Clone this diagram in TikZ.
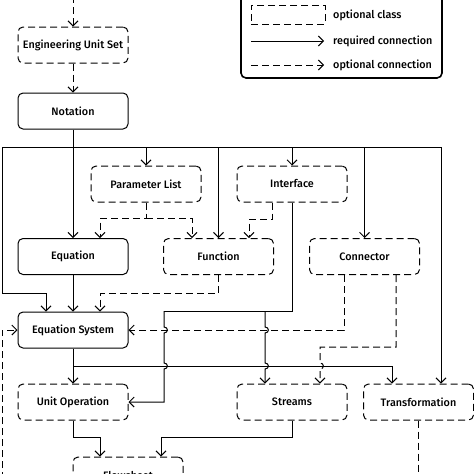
\documentclass[tikz,border=0pt]{standalone}
\usepackage{fontspec}
\setmainfont{Fira Sans}[UprightFont={Fira Sans Medium}]
\usetikzlibrary{arrows.meta}
\tikzset{
  txt/.style={font=\fontsize{10.8}{13}\selectfont},
  reqbox/.style={draw, txt, rounded corners=5pt, minimum width=110pt, minimum height=36pt, line width=1pt, inner sep=0pt},
  optbox/.style={reqbox, dash pattern=on 7pt off 4pt},
  ln/.style={line width=1pt},
  rc/.style={ln, -{Straight Barb[length=5pt,width=10pt,line width=1pt]}},
  oc/.style={rc, dash pattern=on 7pt off 4pt},
  legtxt/.style={txt, anchor=west, inner sep=0pt}
}
\begin{document}
\begin{tikzpicture}[x=1pt,y=-1pt]
\useasboundingbox (0,0) rectangle (474,474);
\clip (0,0) rectangle (474,474);
\fill[white] (0,0) rectangle (474,474);

% nodes
\node[optbox] (eus) at (73,45) {Engineering Unit Set};
\node[reqbox] (not) at (73,111) {Notation};
\node[optbox] (par) at (146,184) {Parameter List};
\node[optbox] (intf) at (292,184) {Interface};
\node[reqbox] (equ) at (73,256.5) {Equation};
\node[optbox] (fun) at (218.5,256.5) {Function};
\node[optbox] (con) at (364.5,256.5) {Connector};
\node[reqbox] (eqs) at (73,330) {Equation System};
\node[optbox] (uop) at (73,402) {Unit Operation};
\node[optbox] (str) at (292,402) {Streams};
\node[optbox] (tra) at (418.5,402) {Transformation};
\node[optbox] (flo) at (128,475) {Flowsheet};

% free ends
\coordinate (topin) at (73,-4);
\coordinate (leftin) at (2,490);
\coordinate (traout) at (418.5,490);
\coordinate (bL) at (2,147);
\coordinate (bR) at (441,147);

% top
\draw[oc] (topin) -- (eus.north);
\draw[oc] (eus.south) -- (not.north);

% bus from Notation
\draw[ln] (not.south) -- (not.south |- bL);
\draw[ln] (bL) -- (bR);
\draw[rc] (bL) -- (2,293) -| ([xshift=-27pt]eqs.north);
\draw[rc] (not.south |- bL) -- (equ.north);
\draw[rc] (par.north |- bL) -- (par.north);
\draw[rc] (fun.north |- bL) -- (fun.north);
\draw[rc] (intf.north |- bL) -- (intf.north);
\draw[rc] (con.north |- bL) -- (con.north);
\draw[rc] (bR) -- ([xshift=22.5pt]tra.north);

% Parameter List
\draw[oc] (par.south) -- (146,218) -| ([xshift=27pt]equ.north);
\draw[oc] (146,218) -| ([xshift=-26.5pt]fun.north);

% Interface
\draw[oc] ([xshift=-20pt]intf.south) -- (272,219) -| ([xshift=30.5pt]fun.north);
\draw[ln] (intf.south) -- (292,311) -- (164,311);
\draw[rc] (164,311) -- (164,327) .. controls (168.5,327) and (168.5,333) .. (164,333)
  -- (164,363) .. controls (168.5,363) and (168.5,369) .. (164,369) -- (164,402) -- (uop.east);
\draw[rc] (265,311) -- (265,327) .. controls (269.5,327) and (269.5,333) .. (265,333)
  -- (265,363) .. controls (269.5,363) and (269.5,369) .. (265,369) -- ([xshift=-27pt]str.north);

% Equation, Function -> Equation System
\draw[rc] (equ.south) -- (eqs.north);
\draw[oc] (fun.south) -- (218.5,293) -| ([xshift=27pt]eqs.north);

% Connector
\draw[oc] ([xshift=-20.5pt]con.south) |- (eqs.east);
\draw[oc] ([xshift=31.5pt]con.south) -- (396,347) -- (320,347) -- (320,363)
  .. controls (324.5,363) and (324.5,369) .. (320,369) -- ([xshift=28pt]str.north);

% Equation System
\draw[rc] (eqs.south) -- (uop.north);
\draw[rc] (73,366) -| ([xshift=-26.5pt]tra.north);

% to Flowsheet
\draw[rc] (uop.south) -- (73,437) -| ([xshift=-28pt]flo.north);
\draw[rc] (str.south) -- (292,437) -| ([xshift=33pt]flo.north);
\draw[oc] (tra.south) -- (traout);
\draw[oc] (leftin) -- (2,330) -- (eqs.west);

% legend
\draw[line width=1.6pt, rounded corners=5pt] (241,-20) rectangle (442,78);
\node[draw, dash pattern=on 7pt off 4pt, line width=1pt, minimum width=74pt, minimum height=19pt, inner sep=0pt] (legbox) at (288,14.5) {};
\node[legtxt] (l1) at (333,15) {optional class};
\coordinate (a1) at (251,41);
\coordinate (a2) at (324,41);
\draw[rc] (a1) -- (a2);
\node[legtxt] (l2) at (333,41) {required connection};
\coordinate (b1) at (251,65);
\coordinate (b2) at (324,65);
\draw[oc] (b1) -- (b2);
\node[legtxt] (l3) at (333,65) {optional connection};
\end{tikzpicture}
\end{document}
